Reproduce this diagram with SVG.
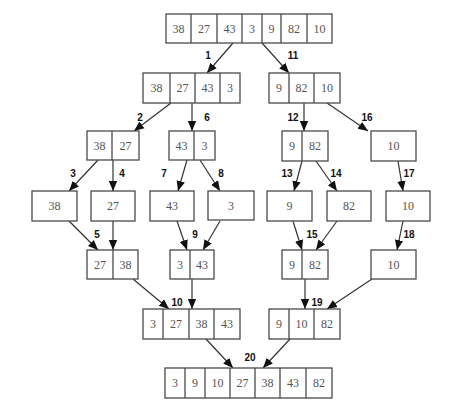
<svg xmlns="http://www.w3.org/2000/svg" width="474" height="411" viewBox="0 0 474 411">
<style>
.box{fill:#fff;stroke:#4a4a4a;stroke-width:1.3}
.div{stroke:#4a4a4a;stroke-width:1.3}
.v{font-family:"Liberation Serif",serif;font-size:12px;fill:#555;text-anchor:middle}
.e{stroke:#333;stroke-width:1.2;fill:none;marker-end:url(#ah)}
.lb{font-family:"Liberation Sans",Arial,sans-serif;font-size:10px;font-weight:bold;fill:#111;text-anchor:middle}
</style>
<defs>
<marker id="ah" markerUnits="userSpaceOnUse" markerWidth="10" markerHeight="10" viewBox="0 0 10 10" refX="10" refY="5" orient="auto">
<path d="M0,0.8 L10,5 L0,9.2 Z" fill="#111"/>
</marker>
</defs>
<rect width="474" height="411" fill="#fff"/>
<g id="connectors">
<line class="e" x1="233" y1="43" x2="207" y2="73"/>
<line class="e" x1="262" y1="43" x2="289" y2="73"/>
<line class="e" x1="171" y1="103" x2="134" y2="131"/>
<line class="e" x1="192" y1="103" x2="192" y2="131"/>
<line class="e" x1="304" y1="103" x2="304" y2="131"/>
<line class="e" x1="327" y1="103" x2="368" y2="131"/>
<line class="e" x1="98" y1="160" x2="69" y2="191"/>
<line class="e" x1="113" y1="160" x2="113" y2="191"/>
<line class="e" x1="187" y1="160" x2="178" y2="191"/>
<line class="e" x1="200" y1="160" x2="220" y2="191"/>
<line class="e" x1="302" y1="161" x2="294" y2="191"/>
<line class="e" x1="316" y1="161" x2="337" y2="191"/>
<line class="e" x1="398" y1="161" x2="403" y2="191"/>
<line class="e" x1="69" y1="221" x2="98" y2="250"/>
<line class="e" x1="113" y1="221" x2="113" y2="250"/>
<line class="e" x1="177" y1="221" x2="187" y2="250"/>
<line class="e" x1="220" y1="221" x2="203" y2="250"/>
<line class="e" x1="293" y1="221" x2="302" y2="250"/>
<line class="e" x1="337" y1="221" x2="316" y2="250"/>
<line class="e" x1="403" y1="221" x2="397" y2="250"/>
<line class="e" x1="133" y1="279" x2="169" y2="309"/>
<line class="e" x1="192" y1="279" x2="192" y2="309"/>
<line class="e" x1="305" y1="279" x2="305" y2="309"/>
<line class="e" x1="372" y1="279" x2="327" y2="309"/>
<line class="e" x1="206" y1="339" x2="233" y2="368"/>
<line class="e" x1="290" y1="339" x2="263" y2="368"/>
<text class="lb" x="208" y="59">1</text>
<text class="lb" x="293" y="59">11</text>
<text class="lb" x="140" y="121">2</text>
<text class="lb" x="207" y="121">6</text>
<text class="lb" x="293" y="121">12</text>
<text class="lb" x="367" y="121">16</text>
<text class="lb" x="73" y="177">3</text>
<text class="lb" x="122" y="177">4</text>
<text class="lb" x="164" y="177">7</text>
<text class="lb" x="221" y="177">8</text>
<text class="lb" x="287" y="177">13</text>
<text class="lb" x="336" y="177">14</text>
<text class="lb" x="409" y="177">17</text>
<text class="lb" x="97" y="238">5</text>
<text class="lb" x="195" y="238">9</text>
<text class="lb" x="312" y="238">15</text>
<text class="lb" x="409" y="238">18</text>
<text class="lb" x="177" y="306">10</text>
<text class="lb" x="317" y="306">19</text>
<text class="lb" x="250" y="361">20</text>
</g>
<g id="n_top">
<rect class="box" x="166" y="14" width="166" height="29"/>
<path class="div" d="M191,14V43M217,14V43M242,14V43M262,14V43M281,14V43M307,14V43"/>
<text class="v" x="178.5" y="33">38</text><text class="v" x="204" y="33">27</text><text class="v" x="229.5" y="33">43</text><text class="v" x="252" y="33">3</text><text class="v" x="271.5" y="33">9</text><text class="v" x="294" y="33">82</text><text class="v" x="319.5" y="33">10</text>
</g>
<g id="n_l1">
<rect class="box" x="143" y="73" width="97" height="30"/>
<path class="div" d="M170,73V103M195,73V103M220,73V103"/>
<text class="v" x="156.5" y="92">38</text><text class="v" x="182.5" y="92">27</text><text class="v" x="207.5" y="92">43</text><text class="v" x="230" y="92">3</text>
</g>
<g id="n_r1">
<rect class="box" x="269" y="73" width="71" height="30"/>
<path class="div" d="M289,73V103M314,73V103"/>
<text class="v" x="279" y="92">9</text><text class="v" x="301.5" y="92">82</text><text class="v" x="327" y="92">10</text>
</g>
<g id="n_a">
<rect class="box" x="87" y="131" width="52" height="29"/>
<path class="div" d="M112,131V160"/>
<text class="v" x="99.5" y="150">38</text><text class="v" x="125.5" y="150">27</text>
</g>
<g id="n_b">
<rect class="box" x="169" y="131" width="46" height="29"/>
<path class="div" d="M194,131V160"/>
<text class="v" x="181.5" y="150">43</text><text class="v" x="204.5" y="150">3</text>
</g>
<g id="n_c">
<rect class="box" x="282" y="131" width="46" height="30"/>
<path class="div" d="M302,131V161"/>
<text class="v" x="292" y="150">9</text><text class="v" x="315" y="150">82</text>
</g>
<g id="n_d">
<rect class="box" x="371" y="131" width="45" height="30"/>
<text class="v" x="393.5" y="150">10</text>
</g>
<g id="n_38">
<rect class="box" x="32" y="191" width="45" height="30"/>
<text class="v" x="54.5" y="210">38</text>
</g>
<g id="n_27">
<rect class="box" x="91" y="191" width="44" height="30"/>
<text class="v" x="113" y="210">27</text>
</g>
<g id="n_43">
<rect class="box" x="150" y="191" width="44" height="30"/>
<text class="v" x="172" y="210">43</text>
</g>
<g id="n_3">
<rect class="box" x="208" y="191" width="46" height="29"/>
<text class="v" x="231" y="210">3</text>
</g>
<g id="n_9">
<rect class="box" x="267" y="191" width="45" height="30"/>
<text class="v" x="289.5" y="210">9</text>
</g>
<g id="n_82">
<rect class="box" x="327" y="191" width="44" height="30"/>
<text class="v" x="349" y="210">82</text>
</g>
<g id="n_10">
<rect class="box" x="386" y="191" width="44" height="30"/>
<text class="v" x="408" y="210">10</text>
</g>
<g id="m_a">
<rect class="box" x="87" y="250" width="51" height="29"/>
<path class="div" d="M113,250V279"/>
<text class="v" x="100" y="269">27</text><text class="v" x="125.5" y="269">38</text>
</g>
<g id="m_b">
<rect class="box" x="170" y="250" width="44" height="29"/>
<path class="div" d="M190,250V279"/>
<text class="v" x="180" y="269">3</text><text class="v" x="202" y="269">43</text>
</g>
<g id="m_c">
<rect class="box" x="282" y="250" width="46" height="29"/>
<path class="div" d="M302,250V279"/>
<text class="v" x="292" y="269">9</text><text class="v" x="315" y="269">82</text>
</g>
<g id="m_d">
<rect class="box" x="371" y="250" width="45" height="29"/>
<text class="v" x="393.5" y="269">10</text>
</g>
<g id="m_l">
<rect class="box" x="143" y="309" width="97" height="30"/>
<path class="div" d="M163,309V339M189,309V339M214,309V339"/>
<text class="v" x="153" y="328">3</text><text class="v" x="176" y="328">27</text><text class="v" x="201.5" y="328">38</text><text class="v" x="227" y="328">43</text>
</g>
<g id="m_r">
<rect class="box" x="269" y="309" width="71" height="30"/>
<path class="div" d="M289,309V339M314,309V339"/>
<text class="v" x="279" y="328">9</text><text class="v" x="301.5" y="328">10</text><text class="v" x="327" y="328">82</text>
</g>
<g id="n_final">
<rect class="box" x="165" y="368" width="167" height="30"/>
<path class="div" d="M185,368V398M205,368V398M230,368V398M255,368V398M280,368V398M306,368V398"/>
<text class="v" x="175" y="387">3</text><text class="v" x="195" y="387">9</text><text class="v" x="217.5" y="387">10</text><text class="v" x="242.5" y="387">27</text><text class="v" x="267.5" y="387">38</text><text class="v" x="293" y="387">43</text><text class="v" x="319" y="387">82</text>
</g>
</svg>
